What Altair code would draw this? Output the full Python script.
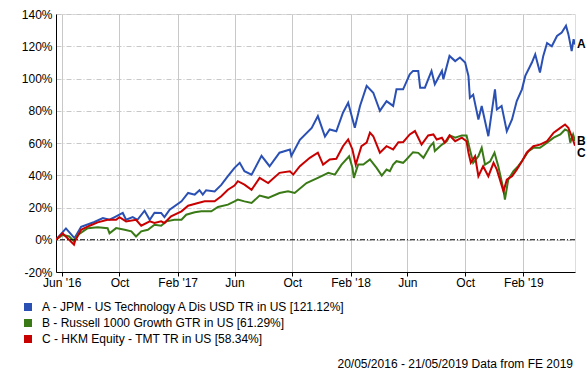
import altair as alt
import pandas as pd

FONT = "Liberation Sans"

series_names = [
    "A - JPM - US Technology A Dis USD TR in US [121.12%]",
    "B - Russell 1000 Growth GTR in US [61.29%]",
    "C - HKM Equity - TMT TR in US [58.34%]",
]
series_letters = ["A", "B", "C"]
series_colors = ["#2a50b4", "#3a7a16", "#c80000"]
label_dy = [0, 0, 7]

a_dates = ["2016-05-20","2016-06-10","2016-06-28","2016-07-12","2016-08-09","2016-08-27","2016-09-10","2016-09-21","2016-10-08","2016-10-15","2016-10-29","2016-11-08","2016-11-23","2016-12-04","2016-12-14","2016-12-28","2017-01-04","2017-01-15","2017-02-09","2017-02-23","2017-03-09","2017-03-19","2017-03-26","2017-04-02","2017-04-20","2017-05-04","2017-05-18","2017-06-01","2017-06-12","2017-06-22","2017-07-07","2017-07-28","2017-08-14","2017-09-04","2017-09-26","2017-09-29","2017-10-17","2017-11-11","2017-11-24","2017-12-09","2017-12-19","2018-01-02","2018-01-16","2018-01-27","2018-02-10","2018-02-21","2018-03-07","2018-03-21","2018-04-04","2018-04-18","2018-05-02","2018-05-09","2018-05-23","2018-06-06","2018-06-13","2018-06-24","2018-06-28","2018-07-08","2018-07-22","2018-07-29","2018-08-13","2018-08-16","2018-08-29","2018-09-10","2018-09-20","2018-10-01","2018-10-08","2018-10-11","2018-10-18","2018-10-29","2018-11-05","2018-11-19","2018-11-26","2018-12-03","2018-12-07","2018-12-17","2018-12-28","2019-01-08","2019-01-18","2019-01-29","2019-02-05","2019-02-19","2019-02-26","2019-03-08","2019-03-15","2019-03-23","2019-04-02","2019-04-13","2019-04-23","2019-05-02","2019-05-07","2019-05-14","2019-05-18","2019-05-21"]
a_values = [0,7,1,8,11,13.5,12.4,14,16.6,12.4,14,12.4,18,12.4,16.8,16.6,14,18.7,23.8,29,28,30.7,28,30.7,30,34,39.4,44.6,47.7,42.5,40.4,52,45.6,54,56,52,62,69.4,76.7,64,68.4,67.3,78.8,85,69.4,83,95.4,91.2,80,86,83,93.3,93.3,102.6,104.7,104.7,94.3,94.3,104.7,96.4,104.7,99.5,114,110.8,113,109.9,101.6,88,90,74.6,83,64.2,78.8,93.3,80.8,83,67.3,74.6,86,93.3,101.6,109.9,115,103.7,114,122,120,126.4,128.5,132.7,127.5,117,124.4,121.12]

b_dates = ["2016-05-20","2016-06-03","2016-06-17","2016-06-27","2016-07-05","2016-07-26","2016-08-16","2016-09-06","2016-09-10","2016-09-24","2016-10-12","2016-10-26","2016-11-05","2016-11-16","2016-11-30","2016-12-14","2016-12-28","2017-01-08","2017-01-25","2017-02-09","2017-02-19","2017-03-09","2017-03-23","2017-04-13","2017-04-27","2017-05-18","2017-06-01","2017-06-08","2017-06-22","2017-07-07","2017-07-24","2017-08-11","2017-09-04","2017-09-22","2017-10-06","2017-10-31","2017-11-24","2017-12-16","2017-12-30","2018-01-13","2018-01-29","2018-02-05","2018-02-08","2018-02-17","2018-02-28","2018-03-14","2018-03-28","2018-04-08","2018-04-18","2018-04-25","2018-05-02","2018-05-09","2018-05-23","2018-05-30","2018-06-13","2018-06-24","2018-07-05","2018-07-19","2018-07-26","2018-07-29","2018-08-13","2018-08-23","2018-08-30","2018-09-10","2018-09-24","2018-10-04","2018-10-11","2018-10-18","2018-10-29","2018-11-05","2018-11-12","2018-11-23","2018-12-02","2018-12-10","2018-12-21","2018-12-24","2018-12-31","2019-01-11","2019-01-21","2019-01-29","2019-02-12","2019-02-22","2019-03-08","2019-03-23","2019-04-06","2019-04-20","2019-04-30","2019-05-07","2019-05-11","2019-05-17","2019-05-21"]
b_values = [0,3,2,-1,3,7.2,7.8,7.2,4,7.2,6.2,5.2,2,5.2,6.2,9.3,8.7,11.4,12.4,12.4,15.5,17,17.6,17.6,20.3,21.8,23.8,24.9,23.8,22.8,27.4,26,29,30,29,35.2,38.4,41.5,40.4,46.6,51.8,44.6,38.4,46.6,46.6,49.8,44.6,39.8,43.5,42.5,46.6,48.7,47.7,49.8,54.3,53.9,50.8,58,60.2,55,59,61.1,64.7,63.3,64.7,64.7,56,47.7,51.8,57,46.6,48.7,54,45.6,31,24.9,37.3,42.5,45.6,48.7,55,57,57,60.2,63.3,65.3,68.4,67.3,60.2,65.3,61.29]

c_dates = ["2016-05-20","2016-06-03","2016-06-27","2016-06-29","2016-07-12","2016-07-30","2016-08-16","2016-09-06","2016-09-24","2016-10-01","2016-10-15","2016-11-05","2016-11-16","2016-12-04","2016-12-14","2016-12-28","2017-01-04","2017-01-18","2017-02-09","2017-02-23","2017-03-16","2017-03-30","2017-04-20","2017-05-04","2017-05-18","2017-06-01","2017-06-08","2017-06-22","2017-07-07","2017-07-24","2017-08-11","2017-09-04","2017-09-26","2017-10-03","2017-10-17","2017-11-07","2017-11-24","2017-12-05","2017-12-19","2018-01-02","2018-01-16","2018-01-27","2018-02-05","2018-02-12","2018-02-24","2018-03-07","2018-03-14","2018-03-21","2018-04-04","2018-04-18","2018-05-02","2018-05-13","2018-05-23","2018-06-06","2018-06-17","2018-06-24","2018-07-01","2018-07-15","2018-07-26","2018-08-02","2018-08-13","2018-08-19","2018-08-29","2018-09-10","2018-09-24","2018-10-04","2018-10-08","2018-10-13","2018-10-22","2018-10-29","2018-11-08","2018-11-19","2018-11-30","2018-12-07","2018-12-21","2018-12-28","2019-01-08","2019-01-18","2019-01-29","2019-02-08","2019-02-22","2019-03-08","2019-03-23","2019-04-06","2019-04-20","2019-04-30","2019-05-07","2019-05-14","2019-05-21"]
c_values = [0,4,-3,-1,6.2,8.7,10.8,12.4,12.4,14,11.4,12.4,8.7,11.4,10.4,11.4,10.4,14.5,17.6,21.1,22.8,23.8,23.8,27,31,33.6,36.3,34.2,31,38.4,35.2,41.5,42.5,40.4,45.6,50.8,54,46.6,49.8,50.2,58,62.2,56,46.6,58,60.2,66.4,64.2,54,58,56,60.5,60.5,65.3,67.4,63.3,59,64.7,65.3,62.2,63.3,60.2,64.7,61.1,63.3,61.1,54,47.7,51.8,39.4,45.6,39.4,47.7,43.5,30,37.3,39.4,43.5,48.7,54,58,59,61.1,66.4,69.4,71.5,69.4,64.2,58.34]

start_date = "2016-05-20"
end_date = "2019-05-21"
tick_dates = ["2016-06-01","2016-10-01","2017-02-01","2017-06-01","2017-10-01","2018-02-01","2018-06-01","2018-10-01","2019-02-01"]
tick_labels = ["Jun '16","Oct","Feb '17","Jun","Oct","Feb '18","Jun","Oct","Feb '19"]
y_ticks = [-20, 0, 20, 40, 60, 80, 100, 120, 140]
footer = "20/05/2016 - 21/05/2019 Data from FE 2019"

rows = []
ends = []
for name, letter, dy, dates, vals in zip(series_names, series_letters, label_dy,
                                         [a_dates, b_dates, c_dates],
                                         [a_values, b_values, c_values]):
    for d, v in zip(dates, vals):
        rows.append({"date": d, "value": v, "series": name})
    ends.append({"date": dates[-1], "value": vals[-1], "letter": letter, "dy": dy})
df = pd.DataFrame(rows)
ends_df = pd.DataFrame(ends)


def dt(s):
    return alt.DateTime(year=int(s[:4]), month=int(s[5:7]), date=int(s[8:10]), utc=True)


label_expr = "''"
for d, l in reversed(list(zip(tick_dates, tick_labels))):
    label_expr = f"utcFormat(datum.value, '%Y-%m-%d') == '{d}' ? \"{l}\" : ({label_expr})"

x_scale = alt.Scale(type="utc", domain=[dt(start_date), dt(end_date)])
y_scale = alt.Scale(domain=[y_ticks[0], y_ticks[-1]], nice=False, zero=False)

x_axis = alt.Axis(
    values=[dt(d) for d in tick_dates],
    labelExpr=label_expr,
    title=None,
    grid=True,
    gridColor="#c8c8c8",
    gridWidth=1,
    domainColor="black",
    domainWidth=1,
    tickColor="black",
    tickSize=4,
    labelPadding=1,
    labelFont=FONT,
    labelFontSize=12,
    labelColor="black",
    labelFlush=False,
    labelOverlap=False,
)
y_axis = alt.Axis(
    values=y_ticks,
    labelExpr="datum.value + '%'",
    title=None,
    grid=True,
    gridColor="#c8c8c8",
    gridDash=[5, 2, 1, 2],
    gridWidth=1,
    domainColor="black",
    domainWidth=1,
    ticks=False,
    labelPadding=4,
    labelFont=FONT,
    labelFontSize=12,
    labelColor="black",
    labelFlush=False,
    labelOverlap=False,
)

lines = alt.Chart(df).mark_line(strokeWidth=2, clip=True).encode(
    x=alt.X("date:T", scale=x_scale, axis=x_axis),
    y=alt.Y("value:Q", scale=y_scale, axis=y_axis),
    color=alt.Color(
        "series:N",
        scale=alt.Scale(domain=series_names, range=series_colors),
        legend=alt.Legend(
            orient="none",
            legendX=-34,
            legendY=287,
            title=None,
            direction="vertical",
            symbolType="square",
            symbolSize=16,
            symbolStrokeWidth=4,
            labelFont=FONT,
            labelFontSize=12,
            labelColor="black",
            labelLimit=0,
            labelOffset=8,
            rowPadding=-4.5,
            padding=0,
        ),
    ),
)

zero = alt.Chart(pd.DataFrame({"value": [0]})).mark_rule(
    color="black", strokeDash=[5, 2, 1, 2], strokeWidth=1
).encode(y=alt.Y("value:Q", scale=y_scale, axis=y_axis))

layers = [lines, zero]
for dy in sorted(set(label_dy)):
    layers.append(
        alt.Chart(ends_df).transform_filter(alt.datum.dy == dy).mark_text(
            align="left", baseline="middle", dx=2, dy=dy, fontSize=12,
            fontWeight="bold", font=FONT, color="black"
        ).encode(
            x=alt.X("date:T", scale=x_scale, axis=x_axis),
            y=alt.Y("value:Q", scale=y_scale, axis=y_axis),
            text="letter:N",
        )
    )

foot = alt.Chart(pd.DataFrame({"t": [footer]})).mark_text(
    align="right", baseline="middle", fontSize=12, font=FONT, color="black"
).encode(x=alt.value(517), y=alt.value(350), text="t:N")
layers.append(foot)

chart = alt.layer(*layers).properties(
    width=519,
    height=258,
    autosize=alt.AutoSizeParams(type="none"),
    padding={"left": 56, "top": 14, "right": 11, "bottom": 99},
).configure_view(stroke="#c8c8c8", strokeWidth=1).configure(background="white")

chart.save("out.html", embed_options={"renderer": "svg", "actions": False})
